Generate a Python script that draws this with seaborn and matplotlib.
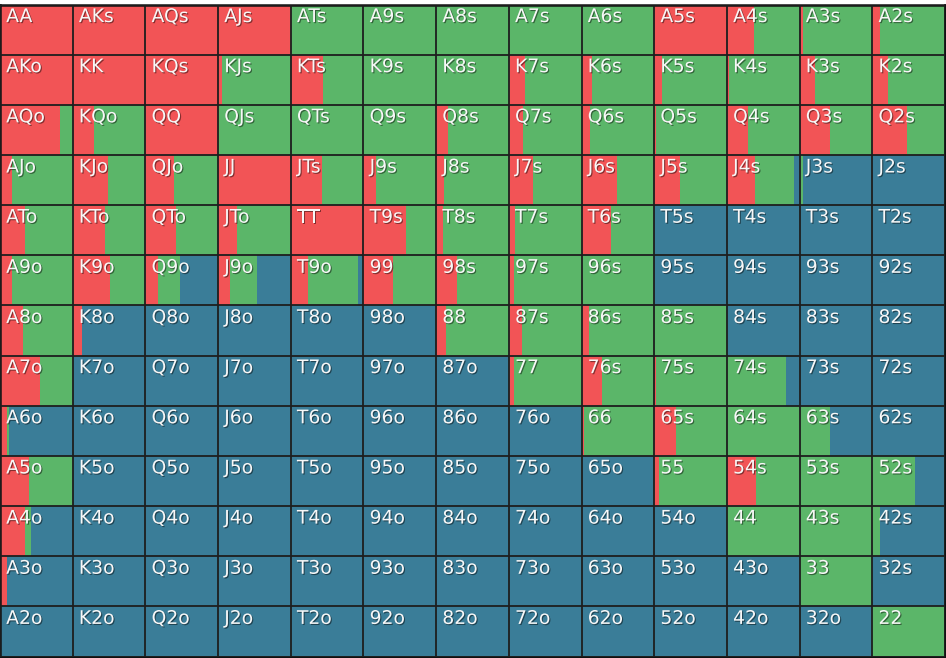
import numpy as np
import pandas as pd
import seaborn as sns
import matplotlib
matplotlib.use("Agg")
import matplotlib.pyplot as plt
from matplotlib.colors import ListedColormap
import matplotlib.patheffects as pe

ranks = ['A', 'K', 'Q', 'J', 'T', '9', '8', '7', '6', '5', '4', '3', '2']

raise_freq = [
    [1, 1, 1, 1, 0, 0, 0, 0, 0, 1, 0.37, 0.05, 0.10],
    [1, 1, 1, 0.06, 0.45, 0, 0, 0.22, 0.14, 0.10, 0.03, 0.21, 0.22],
    [0.82, 0.29, 1, 0, 0, 0, 0.16, 0.19, 0.11, 0.03, 0.29, 0.42, 0.48],
    [0.17, 0.49, 0.40, 1, 0.43, 0.17, 0.11, 0.33, 0.49, 0.36, 0.38, 0, 0],
    [0.34, 0.44, 0.42, 0.26, 1, 0.59, 0.10, 0.09, 0.41, 0, 0, 0, 0],
    [0.17, 0.52, 0.17, 0.17, 0.24, 0.40, 0.29, 0.07, 0, 0, 0, 0, 0],
    [0.32, 0.13, 0, 0, 0, 0, 0.14, 0.18, 0.10, 0, 0, 0, 0],
    [0.55, 0, 0, 0, 0, 0, 0, 0.07, 0.28, 0.03, 0, 0, 0],
    [0.09, 0, 0, 0, 0, 0, 0, 0, 0.04, 0.30, 0, 0, 0],
    [0.40, 0, 0, 0, 0, 0, 0, 0, 0, 0.07, 0.40, 0, 0],
    [0.34, 0, 0, 0, 0, 0, 0, 0, 0, 0, 0, 0, 0],
    [0.09, 0, 0, 0, 0, 0, 0, 0, 0, 0, 0, 0, 0],
    [0, 0, 0, 0, 0, 0, 0, 0, 0, 0, 0, 0, 0],
]

call_freq = [
    [0, 0, 0, 0, 1, 1, 1, 1, 1, 0, 0.63, 0.95, 0.90],
    [0, 0, 0, 0.94, 0.55, 1, 1, 0.78, 0.86, 0.90, 0.97, 0.79, 0.78],
    [0.18, 0.71, 0, 1, 1, 1, 0.84, 0.81, 0.89, 0.97, 0.71, 0.58, 0.52],
    [0.83, 0.51, 0.60, 0, 0.57, 0.83, 0.89, 0.67, 0.51, 0.64, 0.54, 0.05, 0],
    [0.66, 0.56, 0.58, 0.74, 0, 0.41, 0.90, 0.91, 0.59, 0, 0, 0, 0],
    [0.83, 0.48, 0.30, 0.37, 0.68, 0.60, 0.71, 0.93, 1, 0, 0, 0, 0],
    [0.68, 0, 0, 0, 0, 0, 0.86, 0.82, 0.90, 1, 0, 0, 0],
    [0.45, 0, 0, 0, 0, 0, 0, 0.93, 0.72, 0.97, 0.81, 0, 0],
    [0.03, 0, 0, 0, 0, 0, 0, 0, 0.96, 0.70, 1, 0.42, 0],
    [0.60, 0, 0, 0, 0, 0, 0, 0, 0, 0.93, 0.60, 1, 0.59],
    [0.09, 0, 0, 0, 0, 0, 0, 0, 0, 0, 1, 1, 0.11],
    [0, 0, 0, 0, 0, 0, 0, 0, 0, 0, 0, 1, 0],
    [0, 0, 0, 0, 0, 0, 0, 0, 0, 0, 0, 0, 1],
]

RED = "#F25456"
GREEN = "#5BB669"
BLUE = "#3A7D98"
LINE = "#1e1e1e"


def hand_label(i, j):
    if i == j:
        return ranks[i] + ranks[j]
    if j > i:
        return ranks[i] + ranks[j] + 's'
    return ranks[j] + ranks[i] + 'o'


n = len(ranks)
labels = np.array([[hand_label(i, j) for j in range(n)] for i in range(n)])
raise_arr = np.array(raise_freq, dtype=float)
call_arr = np.array(call_freq, dtype=float)
fold_arr = 1 - raise_arr - call_arr

rows = []
for i in range(n):
    for j in range(n):
        rows.append(dict(row=i, col=j, hand=labels[i, j],
                         raise_=raise_arr[i, j], call=call_arr[i, j],
                         fold=fold_arr[i, j]))
df = pd.DataFrame(rows)

sns.set_style("white")
fig = plt.figure(figsize=(9.46, 6.58), dpi=100)
ax = fig.add_axes([0.0, 1.5 / 658, 945 / 946, 652 / 658])

# base: fold colour for every cell
sns.heatmap(pd.DataFrame(np.ones((n, n)), index=ranks, columns=ranks),
            cmap=ListedColormap([BLUE]), cbar=False, linewidths=0, ax=ax)

# stacked horizontal segments: raise (red) then call (green)
ax.barh(df["row"] + 0.5, df["raise_"], left=df["col"], height=1.0,
        color=RED, linewidth=0, zorder=2)
ax.barh(df["row"] + 0.5, df["call"], left=df["col"] + df["raise_"], height=1.0,
        color=GREEN, linewidth=0, zorder=2)

# grid lines
for k in range(n + 1):
    ax.axhline(k, color=LINE, lw=1.3, zorder=3)
    ax.axvline(k, color=LINE, lw=1.3, zorder=3)

# labels
shadow = [pe.withSimplePatchShadow(offset=(0.8, -0.8), shadow_rgbFace="black", alpha=0.45)]
for _, r in df.iterrows():
    ax.text(r["col"] + 0.085, r["row"] + 0.35, r["hand"], color="#f7f7f7",
            fontsize=13.5, fontfamily="DejaVu Sans", va="baseline", ha="left",
            zorder=4, path_effects=shadow)

ax.set_xlim(0, n)
ax.set_ylim(n, 0)
ax.set_xticks([])
ax.set_yticks([])
ax.set_xlabel("")
ax.set_ylabel("")
for s in ax.spines.values():
    s.set_visible(True)
    s.set_color("#111111")
    s.set_linewidth(1.8)

fig.savefig("out.png", dpi=100)
